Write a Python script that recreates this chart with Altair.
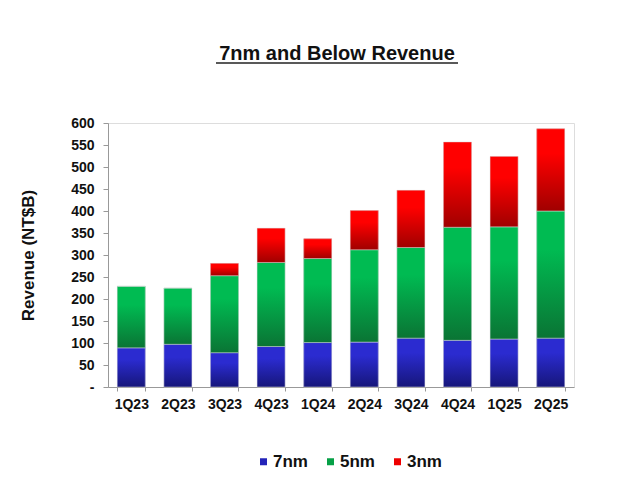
import altair as alt
import pandas as pd

quarters = ["1Q23", "2Q23", "3Q23", "4Q23", "1Q24", "2Q24", "3Q24", "4Q24", "1Q25", "2Q25"]
nm7 = [89, 97, 78, 92, 101, 102, 111, 106, 109, 111]
nm5 = [140, 128, 175, 191, 191, 210, 206, 257, 255, 289]
nm3 = [0, 0, 28, 78, 45, 89, 130, 194, 160, 187]
series = ["7nm", "5nm", "3nm"]
solid = ["#2323b8", "#06a046", "#ee0000"]
grad_top = ["#2b2bd0", "#00bb52", "#ff0000"]
grad_bot = ["#16167a", "#0a7434", "#a00000"]
title_text = "7nm and Below Revenue"

rows = []
for i, q in enumerate(quarters):
    base = 0
    for s, vals in zip(series, [nm7, nm5, nm3]):
        v = vals[i]
        rows.append({"quarter": q, "series": s, "value": v, "lo": base, "hi": base + v})
        base += v
df = pd.DataFrame(rows)

FONT = "Liberation Sans"

x_enc = alt.X(
    "quarter:N",
    sort=quarters,
    scale=alt.Scale(paddingInner=0.4, paddingOuter=0.2),
    axis=alt.Axis(
        title=None, labelAngle=0, labelFont=FONT, labelFontSize=14, labelFontWeight="bold",
        labelColor="#111", labelPadding=6, tickBand="extent", tickSize=4,
        domainColor="#999", tickColor="#999",
    ),
)
y_enc = alt.Y(
    "hi:Q",
    scale=alt.Scale(domain=[0, 600], nice=False),
    axis=alt.Axis(
        title="Revenue (NT$B)", titleFont=FONT, titleFontSize=17, titleFontWeight="bold",
        titleColor="#111", titlePadding=33,
        values=list(range(0, 601, 50)), labelExpr="datum.value == 0 ? '-' : datum.label",
        labelFont=FONT, labelFontSize=14, labelFontWeight="bold", labelColor="#111",
        labelPadding=9, tickSize=5, grid=False, domainColor="#999", tickColor="#999",
    ),
)

base = alt.Chart(df).mark_bar().encode(
    x=x_enc,
    y=y_enc,
    y2="lo:Q",
    color=alt.Color(
        "series:N",
        scale=alt.Scale(domain=series, range=solid),
        legend=alt.Legend(
            title=None, orient="none", direction="horizontal", legendX=147, legendY=330,
            symbolType="square", symbolSize=49, symbolStrokeWidth=0,
            labelFont=FONT, labelFontSize=17, labelFontWeight="bold", labelColor="#111",
            labelOffset=1, columnPadding=14,
        ),
    ),
)

layers = [base]
for s, t, b in zip(series, grad_top, grad_bot):
    g = alt.Gradient(
        gradient="linear",
        stops=[alt.GradientStop(color=t, offset=0), alt.GradientStop(color=t, offset=0.3),
               alt.GradientStop(color=b, offset=1)],
        x1=0, x2=0, y1=0, y2=1,
    )
    layers.append(
        alt.Chart(df).transform_filter(alt.datum.series == s)
        .mark_bar(color=g, stroke="#dddddd", strokeWidth=0.5)
        .encode(x=x_enc, y=y_enc, y2="lo:Q")
    )

title_df = pd.DataFrame({"t": [title_text]})
title_mark = alt.Chart(title_df).mark_text(
    font=FONT, fontSize=20, fontWeight="bold", color="#111", align="center", baseline="alphabetic"
).encode(text="t:N", x=alt.value(229), y=alt.value(-63))
layers.append(title_mark)

underline = alt.Chart(title_df).mark_rule(color="#222", strokeWidth=1.5).encode(
    x=alt.value(108), x2=alt.value(350), y=alt.value(-60)
)
layers.append(underline)

chart = alt.layer(*layers).properties(
    width=466,
    height=264,
    autosize=alt.AutoSizeParams(type="none"),
    padding={"left": 100, "top": 115, "right": 58, "bottom": 90},
).configure_view(stroke=None).configure(background="white")

chart.save("out.html", embed_options={"renderer": "svg", "actions": False})
